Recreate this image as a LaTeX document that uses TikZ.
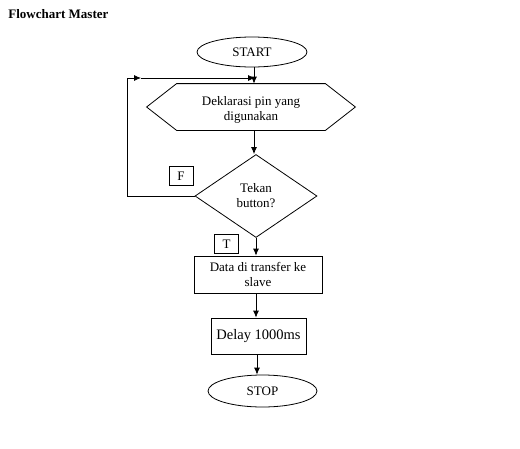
\documentclass[tikz,border=0pt]{standalone}
\usepackage{fontspec}
\setmainfont{Liberation Serif}
\usetikzlibrary{shapes.geometric, arrows.meta, positioning, calc}

\tikzset{
  flowtext/.style={font=\fontsize{13}{15}\selectfont, align=center, inner sep=2pt},
  terminal/.style={flowtext, draw, ellipse, minimum width=110pt, minimum height=30pt},
  process/.style={flowtext, draw, rectangle},
  decision/.style={flowtext, draw, diamond, aspect=1.47, minimum width=122pt, minimum height=83pt},
  tagbox/.style={flowtext, draw, rectangle, minimum width=24pt, minimum height=19pt, inner sep=0pt},
  flowarrow/.style={-{Latex[length=7pt, width=6pt]}, line width=0.8pt}
}

\begin{document}
\begin{tikzpicture}[x=1pt, y=-1pt, line width=0.8pt]
  \useasboundingbox (0,0) rectangle (520,448);

  % Title
  \node[font=\fontsize{13}{15}\selectfont\bfseries, anchor=west, inner sep=0pt] (title) at (8,14) {Flowchart Master};

  % Start / declaration
  \node[terminal] (start) at (252,52) {START};
  \node[flowtext, minimum width=148pt, minimum height=46pt] (deklarasi) at (251,107) {};
  \node[flowtext] (deklarasitext) at (251,109.5) {Deklarasi pin yang\\digunakan};
  \draw (deklarasi.north west) -- (deklarasi.north east) -- ([xshift=30pt]deklarasi.east)
        -- (deklarasi.south east) -- (deklarasi.south west) -- ([xshift=-30pt]deklarasi.west) -- cycle;

  % Decision
  \node[decision] (tekan) at (256,196) {Tekan\\button?};
  \node[tagbox] (labelF) at (181,176) {F};
  \node[tagbox] (labelT) at (226.5,244) {T};

  % Process steps
  \node[process, minimum width=128pt, minimum height=37pt] (transfer) at (258,274.5) {Data di transfer ke\\slave};
  \node[process, minimum width=95pt, minimum height=36pt, font=\fontsize{14.5}{16}\selectfont] (delay) at (258.5,336) {Delay 1000ms};
  \node[terminal, minimum width=109pt, minimum height=32pt] (stop) at (262.5,391) {STOP};

  % Main flow
  \draw[flowarrow] (254,0 |- start.south) -- (254,0 |- deklarasi.north);
  \draw[flowarrow] (254,0 |- deklarasi.south) -- (254,0 |- tekan.north);
  \draw[flowarrow] (tekan.south) -- (tekan.south |- transfer.north);
  \draw[flowarrow] (256,0 |- transfer.south) -- (256,0 |- delay.north);
  \draw[flowarrow] (257,0 |- delay.south) -- (257,0 |- stop.north);

  % Loop back on F
  \coordinate (backleft) at (127,78);
  \coordinate (backtip) at (141,78);
  \coordinate (backjoin) at (255,78);
  \draw[flowarrow] (tekan.west) -| (backleft) -- (backtip);
  \draw[flowarrow] (backtip) -- (backjoin);
\end{tikzpicture}
\end{document}
